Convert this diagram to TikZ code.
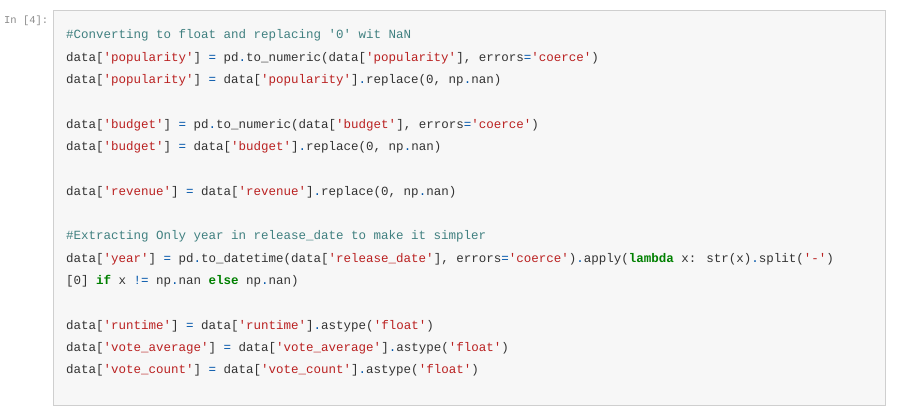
\documentclass[tikz,border=0pt]{standalone}
\usepackage{fontspec}
\newfontfamily\code{Liberation Mono}
\setmainfont{Liberation Sans}
\definecolor{cstr}{HTML}{BA2121}
\definecolor{cop}{HTML}{0055AA}
\definecolor{ckw}{HTML}{008000}
\definecolor{ccm}{HTML}{408080}
\definecolor{ctx}{HTML}{333333}
\newcommand\cs[1]{\textcolor{cstr}{#1}}
\newcommand\co[1]{\textcolor{cop}{#1}}
\newcommand\ck[1]{\textcolor{ckw}{\bfseries #1}}
\newcommand\cn[1]{#1}
\newcommand\cm[1]{\textcolor{ccm}{#1}}
\begin{document}
\begin{tikzpicture}[x=1pt,y=-1pt,
  ln/.style={anchor=base west,inner sep=0pt,font=\code\fontsize{12.5}{14}\selectfont,text=ctx}]
\useasboundingbox[fill=white] (0,0) rectangle (897,414);
\draw[draw=black!19,fill=black!3] (53.5,10.5) rectangle (885.5,405.5);
\node[anchor=base west,inner sep=0pt,font=\code\fontsize{10.5}{12}\selectfont,text=black!45] (in) at (4,24) {In [4]:};
\def\L#1#2{\node[ln] (l#1) at (66,{39+22.33*#1}) {#2};}
\L{0}{\cm{\#Converting to float and replacing '0' wit NaN}}
\L{1}{data[\cs{'popularity'}] \co{=} pd\co{.}to\_numeric(data[\cs{'popularity'}], errors\co{=}\cs{'coerce'})}
\L{2}{data[\cs{'popularity'}] \co{=} data[\cs{'popularity'}]\co{.}replace(\cn{0}, np\co{.}nan)}
\L{4}{data[\cs{'budget'}] \co{=} pd\co{.}to\_numeric(data[\cs{'budget'}], errors\co{=}\cs{'coerce'})}
\L{5}{data[\cs{'budget'}] \co{=} data[\cs{'budget'}]\co{.}replace(\cn{0}, np\co{.}nan)}
\L{7}{data[\cs{'revenue'}] \co{=} data[\cs{'revenue'}]\co{.}replace(\cn{0}, np\co{.}nan)}
\L{9}{\cm{\#Extracting Only year in release\_date to make it simpler}}
\L{10}{data[\cs{'year'}] \co{=} pd\co{.}to\_datetime(data[\cs{'release\_date'}], errors\co{=}\cs{'coerce'})\co{.}apply(\ck{lambda} x: \cn{str}(x)\co{.}split(\cs{'-'})}
\L{11}{[\cn{0}] \ck{if} x \co{!=} np\co{.}nan \ck{else} np\co{.}nan)}
\L{13}{data[\cs{'runtime'}] \co{=} data[\cs{'runtime'}]\co{.}astype(\cs{'float'})}
\L{14}{data[\cs{'vote\_average'}] \co{=} data[\cs{'vote\_average'}]\co{.}astype(\cs{'float'})}
\L{15}{data[\cs{'vote\_count'}] \co{=} data[\cs{'vote\_count'}]\co{.}astype(\cs{'float'})}
\end{tikzpicture}
\end{document}
